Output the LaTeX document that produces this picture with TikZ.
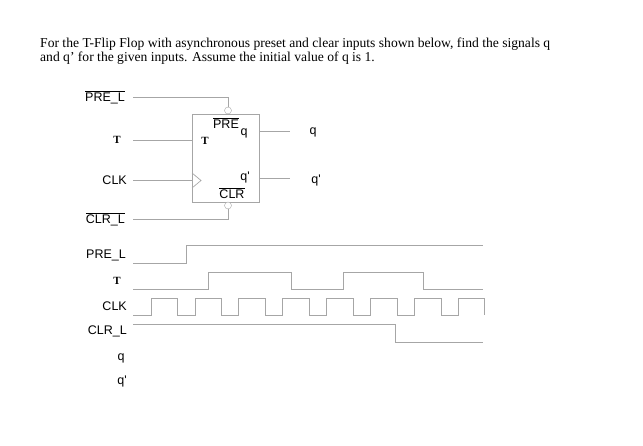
\documentclass[tikz,border=0pt]{standalone}
\usepackage{fontspec}
\setmainfont{Liberation Serif}
\newfontfamily\arial{Liberation Sans}
\begin{document}
\begin{tikzpicture}[x=1pt,y=-1pt,
  wire/.style={draw=black!35, line width=0.7pt},
  lab/.style={font=\arial\fontsize{12.5}{13}\selectfont, inner sep=0pt},
  tlab/.style={font=\bfseries\fontsize{11}{12}\selectfont, inner sep=0pt}]
\useasboundingbox (0,0) rectangle (643,446);
\node[anchor=west, inner sep=0pt, font=\fontsize{13.6}{13.5}\selectfont, align=left] (title) at (40,51)
 {For the T-Flip Flop with asynchronous preset and clear inputs shown below, find the signals q\\
 and q' for the given inputs. Assume the initial value of q is 1.};
% flip flop
\node[draw=black!35, line width=0.7pt, minimum width=67pt, minimum height=88pt, inner sep=0pt, anchor=north west] (ff) at (192,114) {};
\node[draw=black!35, circle, inner sep=0pt, minimum size=7pt, fill=white] (pb) at (228,110.5) {};
\node[draw=black!35, circle, inner sep=0pt, minimum size=7pt, fill=white] (cb) at (228,205.5) {};
\node[lab] (pre) at (226,123) {$\overline{\mbox{PRE}}$};
\node[lab] (qi) at (244,133) {q};
\node[tlab] (ti) at (205,141) {T};
\node[lab] (qpi) at (245,177) {q'};
\node[lab] (clr) at (232,193) {$\overline{\mbox{CLR}}$};
\draw[wire] (192,173) -- (201,180.5) -- (192,188);
\node[lab, anchor=east] (preL) at (125,97) {$\overline{\mbox{PRE\_L}}$};
\node[tlab] (tL) at (117,140) {T};
\node[lab, anchor=east] (clkL) at (127,180) {CLK};
\node[lab, anchor=east] (clrL) at (125,219) {$\overline{\mbox{CLR\_L}}$};
\node[lab] (qo) at (313,132) {q};
\node[lab] (qpo) at (316,180) {q'};
\coordinate (a1) at (133,97); \coordinate (a2) at (228,97);
\draw[wire] (a1) -- (a2) -- (pb.north);
\coordinate (c1) at (133,219); \coordinate (c2) at (228,219);
\draw[wire] (c1) -- (c2) -- (cb.south);
\coordinate (t1) at (133,140); \draw[wire] (t1) -- (t1 -| ff.west);
\coordinate (k1) at (133,180); \draw[wire] (k1) -- (k1 -| ff.west);
\coordinate (o1) at (290,131); \draw[wire] (o1 -| ff.east) -- (o1);
\coordinate (o2) at (290,178); \draw[wire] (o2 -| ff.east) -- (o2);
% timing
\node[lab, anchor=east] (wPre) at (126,255) {PRE\_L};
\node[tlab] (wT) at (117,281) {T};
\node[lab, anchor=east] (wClk) at (127,306) {CLK};
\node[lab, anchor=east] (wClr) at (127,331) {CLR\_L};
\node[lab] (wq) at (121,358) {q};
\node[lab] (wqp) at (122,381) {q'};
\draw[wire] (133,263) -- (186,263) -- (186,245) -- (483,245);
\draw[wire] (133,289) -- (208,289) -- (208,272) -- (291,272) -- (291,289) -- (343,289) -- (343,272) -- (423,272) -- (423,289) -- (483,289);
\draw[wire] (133,315) foreach \i in {0,...,7} { -- ({151+43.9*\i},315) -- ({151+43.9*\i},298) -- ({177.5+43.9*\i},298) -- ({177.5+43.9*\i},315)} ;
\draw[wire] (133,324) -- (395,324) -- (395,342) -- (483,342);
\end{tikzpicture}
\end{document}
